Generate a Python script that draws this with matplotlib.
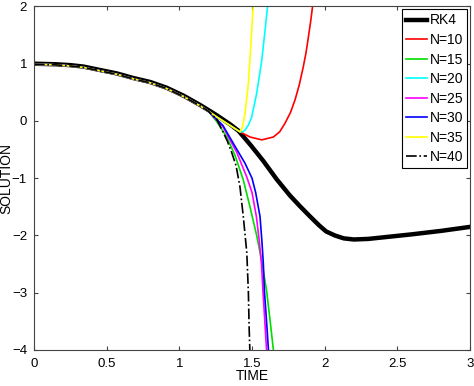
import matplotlib.pyplot as plt
import numpy as np

plt.rcParams['font.family'] = ['Liberation Sans', 'DejaVu Sans']

# RK4 reference solution
t_rk4 = [0, 0.15, 0.25, 0.34, 0.454, 0.57, 0.683, 0.8, 0.913, 1.03, 1.142, 1.2, 1.257,
         1.35, 1.406, 1.49, 1.578, 1.624, 1.67, 1.76, 1.83, 1.9, 1.96, 2.01, 2.07, 2.13,
         2.2, 2.3, 2.45, 2.6, 2.8, 3.0]
y_rk4 = [1.0, 0.99, 0.975, 0.95, 0.89, 0.83, 0.75, 0.68, 0.58, 0.44, 0.28, 0.19, 0.1,
         -0.06, -0.17, -0.42, -0.7, -0.86, -1.02, -1.3, -1.49, -1.67, -1.82, -1.93, -2.0,
         -2.05, -2.07, -2.06, -2.02, -1.98, -1.92, -1.85]

# common early part of the truncated solutions
t_early = [0, 0.15, 0.25, 0.34, 0.454, 0.57, 0.683, 0.8, 0.913, 1.03, 1.142, 1.2]
y_early = [0.99, 0.98, 0.96, 0.935, 0.875, 0.815, 0.735, 0.665, 0.565, 0.425, 0.265, 0.17]

# tails of each N curve
t_n10 = [1.257, 1.35, 1.417, 1.486, 1.567, 1.647, 1.69, 1.727, 1.765, 1.796, 1.825,
         1.853, 1.872, 1.888, 1.904, 1.918, 1.93]
y_n10 = [0.07, -0.08, -0.19, -0.28, -0.33, -0.28, -0.19, -0.04, 0.15, 0.37, 0.63,
         0.95, 1.2, 1.47, 1.75, 2.03, 2.3]
t_n15 = [1.257, 1.326, 1.383, 1.44, 1.486, 1.532, 1.567, 1.60, 1.625, 1.647, 1.66]
y_n15 = [-0.01, -0.28, -0.6, -1.03, -1.5, -2.0, -2.45, -2.96, -3.5, -4.0, -4.3]
t_n20 = [1.257, 1.35, 1.417, 1.435, 1.452, 1.475, 1.498, 1.532, 1.567, 1.59, 1.608, 1.62]
y_n20 = [0.07, -0.08, -0.19, -0.19, -0.16, -0.07, 0.07, 0.48, 1.06, 1.59, 2.03, 2.3]
t_n25 = [1.3, 1.395, 1.464, 1.50, 1.53, 1.55, 1.565, 1.575, 1.588, 1.60, 1.61]
y_n25 = [-0.1, -0.55, -0.98, -1.25, -1.67, -2.1, -2.5, -2.96, -3.5, -4.0, -4.3]
t_n30 = [1.3, 1.371, 1.452, 1.50, 1.525, 1.555, 1.568, 1.578, 1.585, 1.60, 1.613, 1.62]
y_n30 = [-0.08, -0.39, -0.74, -1.0, -1.25, -1.67, -2.1, -2.5, -2.96, -3.5, -4.0, -4.3]
t_n35 = [1.257, 1.35, 1.417, 1.435, 1.452, 1.475, 1.49, 1.502, 1.509, 1.515]
y_n35 = [0.07, -0.08, -0.19, -0.1, 0.13, 0.66, 1.24, 1.76, 2.03, 2.3]
t_n40 = [1.257, 1.30, 1.33, 1.36, 1.39, 1.417, 1.44, 1.464, 1.475, 1.48, 1.485, 1.49]
y_n40 = [0.03, -0.19, -0.35, -0.55, -0.78, -1.15, -1.67, -2.3, -3.0, -3.6, -4.0, -4.3]

series = [
    ('N=10', t_n10, y_n10, 'red', '-'),
    ('N=15', t_n15, y_n15, '#00dd00', '-'),
    ('N=20', t_n20, y_n20, 'cyan', '-'),
    ('N=25', t_n25, y_n25, 'magenta', '-'),
    ('N=30', t_n30, y_n30, 'blue', '-'),
    ('N=35', t_n35, y_n35, 'yellow', '-'),
    ('N=40', t_n40, y_n40, 'black', '-.'),
]

fig = plt.figure(figsize=(4.74, 3.86), dpi=100)
ax = fig.add_axes([0.0717, 0.0933, 0.92, 0.89])

ax.plot(t_rk4, y_rk4, color='black', lw=3.2, label='RK4')
for nombre, t, y, color, estilo in series:
    ax.plot(t_early + t, y_early + y, color=color, ls=estilo, lw=1.2, label=nombre)

ax.set_xlim(0, 3)
ax.set_ylim(-4, 2)
ax.set_xticks([0, 0.5, 1, 1.5, 2, 2.5, 3])
ax.set_xticklabels(['0', '0.5', '1', '1.5', '2', '2.5', '3'])
ax.set_yticks([-4, -3, -2, -1, 0, 1, 2])
ax.tick_params(direction='in', top=True, right=True, labelsize=9.5, length=3,
               color='#444444')
ax.tick_params(axis='x', pad=6)
ax.tick_params(axis='y', pad=5)
for s in ax.spines.values():
    s.set_color('#444444')
ax.set_xlabel('TIME', fontsize=10, labelpad=-1)
ax.set_ylabel('SOLUTION', fontsize=10, labelpad=-1)

leg = ax.legend(loc='upper right', fontsize=10, handlelength=1.5, labelspacing=0.4,
                borderaxespad=0.2, fancybox=False, edgecolor='black',
                handletextpad=0.2, borderpad=0.3, framealpha=1)
leg.get_frame().set_linewidth(0.8)

plt.savefig('out.png', dpi=100)
